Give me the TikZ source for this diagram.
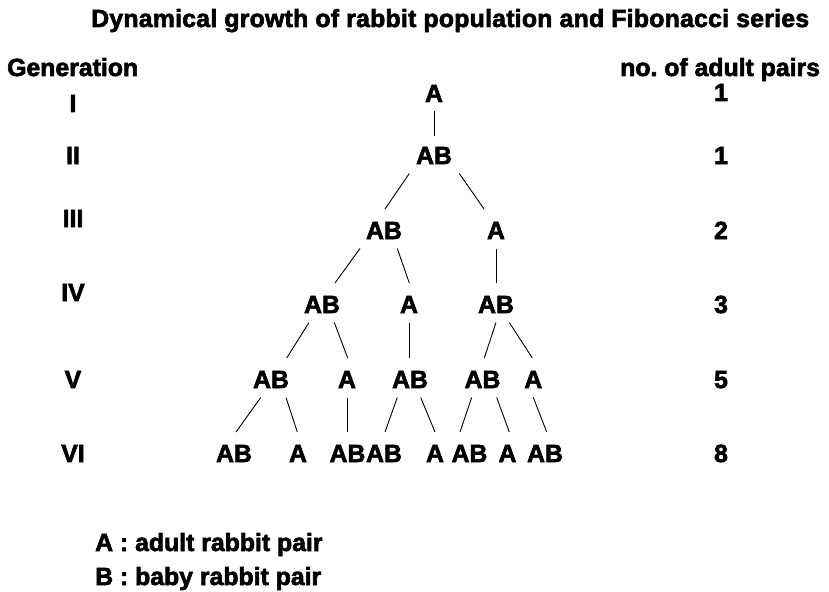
\documentclass[tikz,border=0pt]{standalone}
\usepackage{fontspec}
\setmainfont{Liberation Sans}[BoldFeatures={FakeBold=2.5}]
\begin{document}
\frenchspacing
\begin{tikzpicture}[x=1pt,y=-1pt,
  every node/.style={font=\fontsize{24.8}{30}\selectfont\bfseries, inner sep=0pt, anchor=base},
  tn/.style={text height=17.8pt, text depth=0pt},
  conn/.style={line width=0.9pt}]
\useasboundingbox (0,0) rectangle (829,591);
\newcommand\rbconn[4]{\draw[conn] ([shift={(#2,9.3)}]#1.south) -- ([shift={(#4,-12)}]#3.north);}
% title and headings
\node[anchor=base west] (title) at (91,27) {\addfontfeature{LetterSpace=1}Dynamical growth of rabbit population and Fibonacci series};
\node[anchor=base west] (gen) at (7,76) {Generation};
\node[anchor=base west] (pairs) at (620,76) {no.~of adult pairs};
% generations
\node (g1) at (73,112) {I};
\node (g2) at (73,164) {II};
\node (g3) at (73,227) {III};
\node (g4) at (73,301) {IV};
\node (g5) at (73,388) {V};
\node (g6) at (73,462) {VI};
% counts
\node (c1) at (721,101) {1};
\node (c2) at (721,164) {1};
\node (c3) at (721,239) {2};
\node (c4) at (721,313) {3};
\node (c5) at (721,388) {5};
\node (c6) at (721,462) {8};
% tree
\node[tn] (n1) at (434,102) {A};
\node[tn] (n2) at (434,164) {AB};
\node[tn] (n3a) at (384,239) {AB};
\node[tn] (n3b) at (496,239) {A};
\node[tn] (n4a) at (322,313) {AB};
\node[tn] (n4b) at (409,313) {A};
\node[tn] (n4c) at (496,313) {AB};
\node[tn] (n5a) at (271,388) {AB};
\node[tn] (n5b) at (347,388) {A};
\node[tn] (n5c) at (410,388) {AB};
\node[tn] (n5d) at (482.5,388) {AB};
\node[tn] (n5e) at (533.3,388) {A};
\node[tn] (n6a) at (234,462) {AB};
\node[tn] (n6b) at (298,462) {A};
\node[tn] (n6c) at (347.5,462) {AB};
\node[tn] (n6d) at (384,462) {AB};
\node[tn] (n6e) at (435,462) {A};
\node[tn] (n6f) at (469.5,462) {AB};
\node[tn] (n6g) at (507.5,462) {A};
\node[tn] (n6h) at (545,462) {AB};
% connectors
\draw[conn] ([shift={(0.3,9)}]n1.south) -- ([shift={(0.3,-10.5)}]n2.north);
\rbconn{n2}{-24.7}{n3a}{1}
\rbconn{n2}{25.3}{n3b}{-12}
\rbconn{n3a}{-24}{n4a}{13}
\rbconn{n3a}{13.3}{n4b}{0.3}
\rbconn{n3b}{0}{n4c}{0}
\rbconn{n4a}{-13}{n5a}{15.7}
\rbconn{n4a}{12.3}{n5b}{0.7}
\rbconn{n4b}{0.3}{n5c}{-0.7}
\rbconn{n4c}{0}{n5d}{1.8}
\rbconn{n4c}{13.3}{n5e}{-1}
\rbconn{n5a}{-10.3}{n6a}{2}
\rbconn{n5a}{15}{n6b}{-0.7}
\rbconn{n5b}{0.3}{n6c}{-0.2}
\rbconn{n5c}{-12.7}{n6d}{1}
\rbconn{n5c}{10.7}{n6e}{0}
\rbconn{n5d}{-10.8}{n6f}{-9.5}
\rbconn{n5d}{14.2}{n6g}{1.8}
\rbconn{n5e}{0}{n6h}{1.7}
% legend
\node[anchor=base west] (legA) at (95,551) {A : adult rabbit pair};
\node[anchor=base west] (legB) at (95,585) {B : baby rabbit pair};
\end{tikzpicture}
\end{document}
